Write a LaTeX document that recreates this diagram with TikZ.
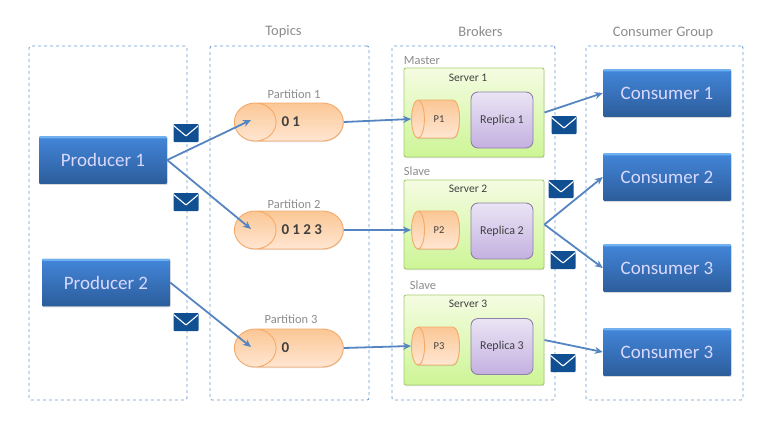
\documentclass[tikz,border=0pt]{standalone}
\usepackage{fontspec}
\setmainfont{Carlito}
\usetikzlibrary{shapes.geometric, shadows, arrows.meta}

\definecolor{dashblue}{HTML}{6F9BD1}
\definecolor{linkblue}{HTML}{5585C0}
\definecolor{mailblue}{HTML}{0F4F92}
\definecolor{labelgray}{HTML}{8C8C8C}
\definecolor{darktext}{HTML}{404040}
\definecolor{apptop}{HTML}{4386DA}
\definecolor{appbottom}{HTML}{2C5D9B}
\definecolor{appstrip}{HTML}{6CB0F0}
\definecolor{serverline}{HTML}{A6CC72}
\definecolor{servertop}{HTML}{F5FCE2}
\definecolor{serverbottom}{HTML}{CDF596}
\definecolor{replicaline}{HTML}{8F80A8}
\definecolor{replicatop}{HTML}{EAE5F5}
\definecolor{replicabottom}{HTML}{C4B0E0}
\definecolor{drumline}{HTML}{F5AA69}
\definecolor{drumtop}{HTML}{FBC795}
\definecolor{drumbottom}{HTML}{FFE6D2}

\newcommand{\offsets}[1]{\makebox[36pt][l]{#1}}

\tikzset{
  groupbox/.style={draw=dashblue, dashed, line width=0.9pt, rounded corners=2pt, minimum width=#1, minimum height=354pt},
  appbox/.style={rounded corners=1pt, top color=apptop, bottom color=appbottom,
    text=white!85!blue, minimum width=128pt, minimum height=47.5pt, font=\fontsize{19}{22}\selectfont,
    drop shadow={opacity=0.3, shadow xshift=0.6pt, shadow yshift=-1.2pt},
    path picture={\fill[appstrip] (path picture bounding box.north west) rectangle ([yshift=-2pt]path picture bounding box.north east);}},
  serverbox/.style={draw=serverline, line width=0.9pt, rounded corners=2pt, top color=servertop,
    bottom color=serverbottom, minimum width=140pt, minimum height=89pt,
    drop shadow={opacity=0.25, shadow xshift=0.4pt, shadow yshift=-1pt}},
  replicabox/.style={draw=replicaline, line width=0.9pt, rounded corners=7pt, top color=replicatop,
    bottom color=replicabottom, minimum width=62pt, minimum height=56pt, text=darktext, font=\fontsize{12}{14}\selectfont},
  drum/.style={cylinder, shape border rotate=180, top color=drumtop, bottom color=drumbottom, draw=drumline,
    line width=0.9pt, inner sep=0pt, text=darktext,
    drop shadow={opacity=0.25, shadow xshift=0.4pt, shadow yshift=-1pt}},
  partdrum/.style={drum, aspect=4.2, minimum width=38pt, minimum height=109pt, font=\bfseries\fontsize{15}{17}\selectfont},
  pdrum/.style={drum, aspect=1.9, minimum width=38pt, minimum height=48pt, font=\fontsize{10.5}{12}\selectfont},
  envelope/.style={fill=mailblue, rounded corners=0.8pt, minimum width=25pt, minimum height=18pt, inner sep=0pt,
    path picture={\draw[white, line width=1.1pt] ([yshift=-1.5pt]path picture bounding box.north west) -- ([yshift=6pt]path picture bounding box.south) -- ([yshift=-1.5pt]path picture bounding box.north east);}},
  link/.style={-{Stealth[length=8pt, width=7pt]}, draw=linkblue, line width=1.8pt},
  grouplabel/.style={text=labelgray, font=\fontsize{14.5}{17}\selectfont},
  smalllabel/.style={text=labelgray, font=\fontsize{12.5}{15}\selectfont},
  serverlabel/.style={text=darktext, font=\fontsize{11.5}{13}\selectfont}
}

\begin{document}
\begin{tikzpicture}[x=1pt, y=-1pt]
        \useasboundingbox (0, 0) rectangle (768, 424);

        % Groups
        \node[groupbox=158pt] (producers) at (108, 223) {};
        \node[groupbox=159pt] (topics) at (289.5, 223) {};
        \node[groupbox=163pt] (brokers) at (473.5, 223) {};
        \node[groupbox=157pt] (consumers) at (664.5, 223) {};

        \node[grouplabel] (topicslabel) at (283.5, 32) {Topics};
        \node[grouplabel] (brokerslabel) at (480.5, 32) {Brokers};
        \node[grouplabel] (consumerslabel) at (663, 33) {Consumer Group};

        % Producers
        \node[appbox] (prod1) at (103, 160) {Producer 1};
        \node[appbox] (prod2) at (106, 282.5) {Producer 2};

        % Partitions
        \node[partdrum] (part1) at (299.5, 122) {\offsets{0 1}};
        \node[partdrum] (part2) at (299.5, 230) {\offsets{0 1 2 3}};
        \node[partdrum] (part3) at (299.5, 348) {\offsets{0}};
        \node[smalllabel] (part1label) at (294, 94) {Partition 1};
        \node[smalllabel] (part2label) at (294, 204) {Partition 2};
        \node[smalllabel] (part3label) at (291, 319) {Partition 3};
        \coordinate (in1) at (251, 120);
        \coordinate (in2) at (251, 229);
        \coordinate (in3) at (251, 347);

        % Servers
        \node[serverbox] (srv1) at (474, 112.5) {};
        \node[serverbox] (srv2) at (474, 224.5) {};
        \node[serverbox, minimum height=90pt] (srv3) at (474, 340) {};
        \node[smalllabel] (masterlabel) at (422, 61) {Master};
        \node[smalllabel] (slave1label) at (417, 171) {Slave};
        \node[smalllabel] (slave2label) at (423, 285) {Slave};
        \node[serverlabel] (srv1label) at (468, 78) {Server 1};
        \node[serverlabel] (srv2label) at (468, 189) {Server 2};
        \node[serverlabel] (srv3label) at (468, 304) {Server 3};

        \node[pdrum] (p1) at (439, 119) {P1};
        \node[pdrum] (p2) at (439, 230) {P2};
        \node[pdrum] (p3) at (439, 346) {P3};
        \node[replicabox] (rep1) at (502, 120) {Replica 1};
        \node[replicabox] (rep2) at (502, 231) {Replica 2};
        \node[replicabox] (rep3) at (502, 346.5) {Replica 3};

        % Consumers
        \node[appbox] (cons1) at (667, 93) {Consumer 1};
        \node[appbox] (cons2) at (667, 177) {Consumer 2};
        \node[appbox] (cons3) at (667, 268) {Consumer 3};
        \node[appbox] (cons4) at (667, 352) {Consumer 3};

        % Links
        \draw[link] (prod1.east) -- (in1);
        \draw[link] (prod1.east) -- (in2);
        \draw[link] (prod2.east) -- (in3);
        \draw[link] (part1.east) -- (p1.west);
        \draw[link] (part2.east) -- (p2.west);
        \draw[link] (part3.east) -- (p3.west);
        \draw[link] (srv1.east) -- (cons1.west);
        \draw[link] (srv2.east) -- (cons2.west);
        \draw[link] (srv2.east) -- (cons3.west);
        \draw[link] (srv3.east) -- (cons4.west);

        % Messages
        \node[envelope] (mail1) at (186, 133) {};
        \node[envelope] (mail2) at (186, 202) {};
        \node[envelope] (mail3) at (186, 322) {};
        \node[envelope] (mail4) at (564, 125) {};
        \node[envelope] (mail5) at (561, 189) {};
        \node[envelope] (mail6) at (563, 260) {};
        \node[envelope] (mail7) at (563, 363) {};
\end{tikzpicture}
\end{document}
